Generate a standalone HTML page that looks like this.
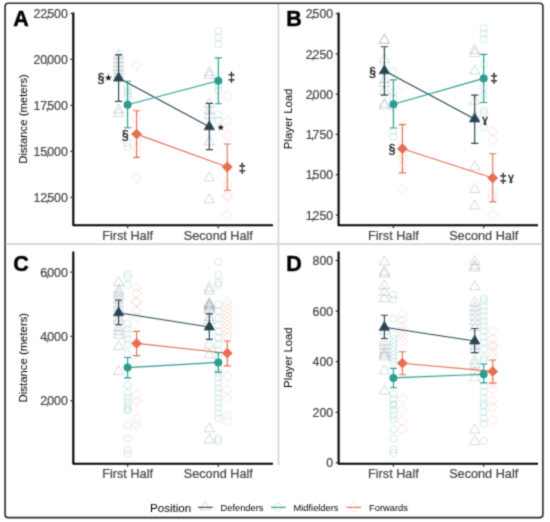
<!DOCTYPE html>
<html><head><meta charset="utf-8"><title>Chart</title>
<style>
html,body{margin:0;padding:0;background:#fff;}
body{width:550px;height:522px;overflow:hidden;}
svg{display:block;font-family:"Liberation Sans", sans-serif;}
#w{will-change:transform;width:550px;height:522px;}
</style></head>
<body>
<div id="w">
<svg width="550" height="522" viewBox="0 0 550 522">
<defs><filter id="bl" color-interpolation-filters="sRGB" x="0" y="0" width="550" height="522" filterUnits="userSpaceOnUse"><feConvolveMatrix order="3" kernelMatrix="0.04 0.1 0.04 0.1 0.44 0.1 0.04 0.1 0.04" divisor="1" edgeMode="duplicate" preserveAlpha="true"/></filter></defs>
<rect width="550" height="522" fill="#fff"/>
<g filter="url(#bl)">
<rect width="550" height="522" fill="#fff"/>
<rect x="5.1" y="3.3" width="537.8" height="514.3" rx="3.2" ry="3.2" fill="none" stroke="#2a2a2a" stroke-width="1.6"/>
<line x1="278.4" y1="4" x2="278.4" y2="465" stroke="#d6d6d6" stroke-width="1.8"/>
<line x1="5.8" y1="244.2" x2="542.2" y2="244.2" stroke="#d6d6d6" stroke-width="1.8"/>
<polygon points="118.60,49.40 123.80,58.40 113.40,58.40" fill="none" stroke="#264653" stroke-width="0.75" stroke-opacity="0.26" />
<polygon points="118.60,53.50 123.80,62.50 113.40,62.50" fill="none" stroke="#264653" stroke-width="0.75" stroke-opacity="0.26" />
<polygon points="118.60,57.50 123.80,66.50 113.40,66.50" fill="none" stroke="#264653" stroke-width="0.75" stroke-opacity="0.26" />
<polygon points="118.60,61.50 123.80,70.50 113.40,70.50" fill="none" stroke="#264653" stroke-width="0.75" stroke-opacity="0.26" />
<polygon points="118.60,65.00 123.80,74.00 113.40,74.00" fill="none" stroke="#264653" stroke-width="0.75" stroke-opacity="0.26" />
<polygon points="118.60,68.50 123.80,77.50 113.40,77.50" fill="none" stroke="#264653" stroke-width="0.75" stroke-opacity="0.26" />
<polygon points="118.60,104.00 123.80,113.00 113.40,113.00" fill="none" stroke="#264653" stroke-width="0.75" stroke-opacity="0.26" />
<polygon points="118.60,107.50 123.80,116.50 113.40,116.50" fill="none" stroke="#264653" stroke-width="0.75" stroke-opacity="0.26" />
<circle cx="127.60" cy="87.00" r="3.6" fill="none" stroke="#2a9d8f" stroke-width="0.75" stroke-opacity="0.26" />
<circle cx="127.60" cy="90.50" r="3.6" fill="none" stroke="#2a9d8f" stroke-width="0.75" stroke-opacity="0.26" />
<circle cx="127.60" cy="94.00" r="3.6" fill="none" stroke="#2a9d8f" stroke-width="0.75" stroke-opacity="0.26" />
<circle cx="127.60" cy="97.00" r="3.6" fill="none" stroke="#2a9d8f" stroke-width="0.75" stroke-opacity="0.26" />
<circle cx="127.60" cy="143.00" r="3.6" fill="none" stroke="#2a9d8f" stroke-width="0.75" stroke-opacity="0.26" />
<circle cx="127.60" cy="147.00" r="3.6" fill="none" stroke="#2a9d8f" stroke-width="0.75" stroke-opacity="0.26" />
<polygon points="136.60,60.30 141.60,65.30 136.60,70.30 131.60,65.30" fill="none" stroke="#e76f51" stroke-width="0.75" stroke-opacity="0.26" />
<polygon points="136.60,113.60 141.60,118.60 136.60,123.60 131.60,118.60" fill="none" stroke="#e76f51" stroke-width="0.75" stroke-opacity="0.26" />
<polygon points="136.60,135.00 141.60,140.00 136.60,145.00 131.60,140.00" fill="none" stroke="#e76f51" stroke-width="0.75" stroke-opacity="0.26" />
<polygon points="136.60,143.00 141.60,148.00 136.60,153.00 131.60,148.00" fill="none" stroke="#e76f51" stroke-width="0.75" stroke-opacity="0.26" />
<polygon points="136.60,172.90 141.60,177.90 136.60,182.90 131.60,177.90" fill="none" stroke="#e76f51" stroke-width="0.75" stroke-opacity="0.26" />
<polygon points="209.30,66.60 214.50,75.60 204.10,75.60" fill="none" stroke="#264653" stroke-width="0.75" stroke-opacity="0.26" />
<polygon points="209.30,69.50 214.50,78.50 204.10,78.50" fill="none" stroke="#264653" stroke-width="0.75" stroke-opacity="0.26" />
<polygon points="209.30,98.00 214.50,107.00 204.10,107.00" fill="none" stroke="#264653" stroke-width="0.75" stroke-opacity="0.26" />
<polygon points="209.30,104.50 214.50,113.50 204.10,113.50" fill="none" stroke="#264653" stroke-width="0.75" stroke-opacity="0.26" />
<polygon points="209.30,109.50 214.50,118.50 204.10,118.50" fill="none" stroke="#264653" stroke-width="0.75" stroke-opacity="0.26" />
<polygon points="209.30,136.00 214.50,145.00 204.10,145.00" fill="none" stroke="#264653" stroke-width="0.75" stroke-opacity="0.26" />
<polygon points="209.30,171.90 214.50,180.90 204.10,180.90" fill="none" stroke="#264653" stroke-width="0.75" stroke-opacity="0.26" />
<polygon points="209.30,193.80 214.50,202.80 204.10,202.80" fill="none" stroke="#264653" stroke-width="0.75" stroke-opacity="0.26" />
<circle cx="218.30" cy="31.00" r="3.6" fill="none" stroke="#2a9d8f" stroke-width="0.75" stroke-opacity="0.26" />
<circle cx="218.30" cy="37.80" r="3.6" fill="none" stroke="#2a9d8f" stroke-width="0.75" stroke-opacity="0.26" />
<circle cx="218.30" cy="44.00" r="3.6" fill="none" stroke="#2a9d8f" stroke-width="0.75" stroke-opacity="0.26" />
<circle cx="218.30" cy="86.40" r="3.6" fill="none" stroke="#2a9d8f" stroke-width="0.75" stroke-opacity="0.26" />
<circle cx="218.30" cy="90.50" r="3.6" fill="none" stroke="#2a9d8f" stroke-width="0.75" stroke-opacity="0.26" />
<circle cx="218.30" cy="114.80" r="3.6" fill="none" stroke="#2a9d8f" stroke-width="0.75" stroke-opacity="0.26" />
<circle cx="218.30" cy="120.50" r="3.6" fill="none" stroke="#2a9d8f" stroke-width="0.75" stroke-opacity="0.26" />
<polygon points="227.30,91.20 232.30,96.20 227.30,101.20 222.30,96.20" fill="none" stroke="#e76f51" stroke-width="0.75" stroke-opacity="0.26" />
<polygon points="227.30,115.50 232.30,120.50 227.30,125.50 222.30,120.50" fill="none" stroke="#e76f51" stroke-width="0.75" stroke-opacity="0.26" />
<polygon points="227.30,130.50 232.30,135.50 227.30,140.50 222.30,135.50" fill="none" stroke="#e76f51" stroke-width="0.75" stroke-opacity="0.26" />
<polygon points="227.30,179.20 232.30,184.20 227.30,189.20 222.30,184.20" fill="none" stroke="#e76f51" stroke-width="0.75" stroke-opacity="0.26" />
<polygon points="227.30,190.10 232.30,195.10 227.30,200.10 222.30,195.10" fill="none" stroke="#e76f51" stroke-width="0.75" stroke-opacity="0.26" />
<polygon points="227.30,192.40 232.30,197.40 227.30,202.40 222.30,197.40" fill="none" stroke="#e76f51" stroke-width="0.75" stroke-opacity="0.26" />
<polygon points="227.30,210.00 232.30,215.00 227.30,220.00 222.30,215.00" fill="none" stroke="#e76f51" stroke-width="0.75" stroke-opacity="0.26" />
<line x1="118.60" y1="78.1" x2="209.30" y2="126.8" stroke="#264653" stroke-width="1.15"/>
<line x1="127.60" y1="104.7" x2="218.30" y2="80.7" stroke="#2a9d8f" stroke-width="1.15"/>
<line x1="136.60" y1="134.1" x2="227.30" y2="167.0" stroke="#e76f51" stroke-width="1.15"/>
<path d="M115.00,54.8 H122.20 M118.60,54.8 V101.4 M115.00,101.4 H122.20" stroke="#264653" stroke-width="1.15" fill="none"/>
<path d="M205.70,103.4 H212.90 M209.30,103.4 V149.6 M205.70,149.6 H212.90" stroke="#264653" stroke-width="1.15" fill="none"/>
<path d="M124.00,81.2 H131.20 M127.60,81.2 V127.7 M124.00,127.7 H131.20" stroke="#2a9d8f" stroke-width="1.15" fill="none"/>
<path d="M214.70,57.8 H221.90 M218.30,57.8 V103.7 M214.70,103.7 H221.90" stroke="#2a9d8f" stroke-width="1.15" fill="none"/>
<path d="M133.00,110.7 H140.20 M136.60,110.7 V157.3 M133.00,157.3 H140.20" stroke="#e76f51" stroke-width="1.15" fill="none"/>
<path d="M223.70,144.0 H230.90 M227.30,144.0 V190.2 M223.70,190.2 H230.90" stroke="#e76f51" stroke-width="1.15" fill="none"/>
<polygon points="118.60,72.10 123.80,81.10 113.40,81.10" fill="#264653" stroke="#264653" stroke-width="0.7" stroke-linejoin="miter" />
<polygon points="209.30,120.80 214.50,129.80 204.10,129.80" fill="#264653" stroke="#264653" stroke-width="0.7" stroke-linejoin="miter" />
<circle cx="127.60" cy="104.70" r="4.0" fill="#2a9d8f" />
<circle cx="218.30" cy="80.70" r="4.0" fill="#2a9d8f" />
<polygon points="136.60,128.70 142.00,134.10 136.60,139.50 131.20,134.10" fill="#e76f51" />
<polygon points="227.30,161.60 232.70,167.00 227.30,172.40 221.90,167.00" fill="#e76f51" />
<path d="M73.3,12.5 V225.3 H273" stroke="#000" stroke-width="2.1" stroke-linejoin="round" fill="none"/>
<line x1="70.39999999999999" y1="13.4" x2="73.3" y2="13.4" stroke="#333" stroke-width="1.3"/>
<text x="67.8" y="18.0" font-size="12.3" fill="#444444" text-anchor="end" font-weight="normal" stroke="#444" stroke-width="0.2">22<tspan dx="-1.6">,</tspan><tspan dx="-1.75">500</tspan></text>
<line x1="70.39999999999999" y1="59.4" x2="73.3" y2="59.4" stroke="#333" stroke-width="1.3"/>
<text x="67.8" y="64.0" font-size="12.3" fill="#444444" text-anchor="end" font-weight="normal" stroke="#444" stroke-width="0.2">20<tspan dx="-1.6">,</tspan><tspan dx="-1.75">000</tspan></text>
<line x1="70.39999999999999" y1="105.4" x2="73.3" y2="105.4" stroke="#333" stroke-width="1.3"/>
<text x="67.8" y="110.0" font-size="12.3" fill="#444444" text-anchor="end" font-weight="normal" stroke="#444" stroke-width="0.2">17<tspan dx="-1.6">,</tspan><tspan dx="-1.75">500</tspan></text>
<line x1="70.39999999999999" y1="151.4" x2="73.3" y2="151.4" stroke="#333" stroke-width="1.3"/>
<text x="67.8" y="156.0" font-size="12.3" fill="#444444" text-anchor="end" font-weight="normal" stroke="#444" stroke-width="0.2">15<tspan dx="-1.6">,</tspan><tspan dx="-1.75">000</tspan></text>
<line x1="70.39999999999999" y1="197.4" x2="73.3" y2="197.4" stroke="#333" stroke-width="1.3"/>
<text x="67.8" y="202.0" font-size="12.3" fill="#444444" text-anchor="end" font-weight="normal" stroke="#444" stroke-width="0.2">12<tspan dx="-1.6">,</tspan><tspan dx="-1.75">500</tspan></text>
<line x1="127.6" y1="225.3" x2="127.6" y2="228.20000000000002" stroke="#333" stroke-width="1.3"/>
<text x="127.6" y="239.5" font-size="12.7" fill="#444444" text-anchor="middle" font-weight="normal" stroke="#444" stroke-width="0.2">First Half</text>
<line x1="218.3" y1="225.3" x2="218.3" y2="228.20000000000002" stroke="#333" stroke-width="1.3"/>
<text x="218.3" y="239.5" font-size="12.7" fill="#444444" text-anchor="middle" font-weight="normal" stroke="#444" stroke-width="0.2">Second Half</text>
<text x="26.9" y="118.9" font-size="11.35" fill="#000" text-anchor="middle" transform="rotate(-90 26.9 118.9)">Distance (meters)</text>
<text x="13.2" y="25.8" font-size="21.5" fill="#000" text-anchor="start" font-weight="bold" stroke="#000" stroke-width="0.45">A</text>
<polygon points="384.40,34.30 389.60,43.30 379.20,43.30" fill="none" stroke="#264653" stroke-width="0.75" stroke-opacity="0.26" />
<polygon points="384.40,34.30 389.60,43.30 379.20,43.30" fill="none" stroke="#264653" stroke-width="0.75" stroke-opacity="0.26" />
<polygon points="384.40,53.70 389.60,62.70 379.20,62.70" fill="none" stroke="#264653" stroke-width="0.75" stroke-opacity="0.26" />
<polygon points="384.40,73.50 389.60,82.50 379.20,82.50" fill="none" stroke="#264653" stroke-width="0.75" stroke-opacity="0.26" />
<polygon points="384.40,77.50 389.60,86.50 379.20,86.50" fill="none" stroke="#264653" stroke-width="0.75" stroke-opacity="0.26" />
<polygon points="384.40,85.50 389.60,94.50 379.20,94.50" fill="none" stroke="#264653" stroke-width="0.75" stroke-opacity="0.26" />
<polygon points="384.40,98.00 389.60,107.00 379.20,107.00" fill="none" stroke="#264653" stroke-width="0.75" stroke-opacity="0.26" />
<polygon points="384.40,100.00 389.60,109.00 379.20,109.00" fill="none" stroke="#264653" stroke-width="0.75" stroke-opacity="0.26" />
<circle cx="393.40" cy="70.80" r="3.6" fill="none" stroke="#2a9d8f" stroke-width="0.75" stroke-opacity="0.26" />
<circle cx="393.40" cy="92.20" r="3.6" fill="none" stroke="#2a9d8f" stroke-width="0.75" stroke-opacity="0.26" />
<circle cx="393.40" cy="98.60" r="3.6" fill="none" stroke="#2a9d8f" stroke-width="0.75" stroke-opacity="0.26" />
<circle cx="393.40" cy="107.20" r="3.6" fill="none" stroke="#2a9d8f" stroke-width="0.75" stroke-opacity="0.26" />
<circle cx="393.40" cy="130.90" r="3.6" fill="none" stroke="#2a9d8f" stroke-width="0.75" stroke-opacity="0.26" />
<circle cx="393.40" cy="136.70" r="3.6" fill="none" stroke="#2a9d8f" stroke-width="0.75" stroke-opacity="0.26" />
<polygon points="402.40,81.40 407.40,86.40 402.40,91.40 397.40,86.40" fill="none" stroke="#e76f51" stroke-width="0.75" stroke-opacity="0.26" />
<polygon points="402.40,121.80 407.40,126.80 402.40,131.80 397.40,126.80" fill="none" stroke="#e76f51" stroke-width="0.75" stroke-opacity="0.26" />
<polygon points="402.40,138.00 407.40,143.00 402.40,148.00 397.40,143.00" fill="none" stroke="#e76f51" stroke-width="0.75" stroke-opacity="0.26" />
<polygon points="402.40,149.50 407.40,154.50 402.40,159.50 397.40,154.50" fill="none" stroke="#e76f51" stroke-width="0.75" stroke-opacity="0.26" />
<polygon points="402.40,153.00 407.40,158.00 402.40,163.00 397.40,158.00" fill="none" stroke="#e76f51" stroke-width="0.75" stroke-opacity="0.26" />
<polygon points="402.40,161.00 407.40,166.00 402.40,171.00 397.40,166.00" fill="none" stroke="#e76f51" stroke-width="0.75" stroke-opacity="0.26" />
<polygon points="402.40,184.30 407.40,189.30 402.40,194.30 397.40,189.30" fill="none" stroke="#e76f51" stroke-width="0.75" stroke-opacity="0.26" />
<polygon points="474.70,44.50 479.90,53.50 469.50,53.50" fill="none" stroke="#264653" stroke-width="0.75" stroke-opacity="0.26" />
<polygon points="474.70,47.50 479.90,56.50 469.50,56.50" fill="none" stroke="#264653" stroke-width="0.75" stroke-opacity="0.26" />
<polygon points="474.70,65.00 479.90,74.00 469.50,74.00" fill="none" stroke="#264653" stroke-width="0.75" stroke-opacity="0.26" />
<polygon points="474.70,95.00 479.90,104.00 469.50,104.00" fill="none" stroke="#264653" stroke-width="0.75" stroke-opacity="0.26" />
<polygon points="474.70,110.50 479.90,119.50 469.50,119.50" fill="none" stroke="#264653" stroke-width="0.75" stroke-opacity="0.26" />
<polygon points="474.70,160.80 479.90,169.80 469.50,169.80" fill="none" stroke="#264653" stroke-width="0.75" stroke-opacity="0.26" />
<polygon points="474.70,183.50 479.90,192.50 469.50,192.50" fill="none" stroke="#264653" stroke-width="0.75" stroke-opacity="0.26" />
<polygon points="474.70,200.00 479.90,209.00 469.50,209.00" fill="none" stroke="#264653" stroke-width="0.75" stroke-opacity="0.26" />
<circle cx="483.70" cy="28.20" r="3.6" fill="none" stroke="#2a9d8f" stroke-width="0.75" stroke-opacity="0.26" />
<circle cx="483.70" cy="33.40" r="3.6" fill="none" stroke="#2a9d8f" stroke-width="0.75" stroke-opacity="0.26" />
<circle cx="483.70" cy="39.10" r="3.6" fill="none" stroke="#2a9d8f" stroke-width="0.75" stroke-opacity="0.26" />
<circle cx="483.70" cy="64.20" r="3.6" fill="none" stroke="#2a9d8f" stroke-width="0.75" stroke-opacity="0.26" />
<circle cx="483.70" cy="87.60" r="3.6" fill="none" stroke="#2a9d8f" stroke-width="0.75" stroke-opacity="0.26" />
<circle cx="483.70" cy="95.10" r="3.6" fill="none" stroke="#2a9d8f" stroke-width="0.75" stroke-opacity="0.26" />
<circle cx="483.70" cy="110.50" r="3.6" fill="none" stroke="#2a9d8f" stroke-width="0.75" stroke-opacity="0.26" />
<circle cx="483.70" cy="113.00" r="3.6" fill="none" stroke="#2a9d8f" stroke-width="0.75" stroke-opacity="0.26" />
<circle cx="483.70" cy="127.00" r="3.6" fill="none" stroke="#2a9d8f" stroke-width="0.75" stroke-opacity="0.26" />
<polygon points="492.70,126.60 497.70,131.60 492.70,136.60 487.70,131.60" fill="none" stroke="#e76f51" stroke-width="0.75" stroke-opacity="0.26" />
<polygon points="492.70,135.20 497.70,140.20 492.70,145.20 487.70,140.20" fill="none" stroke="#e76f51" stroke-width="0.75" stroke-opacity="0.26" />
<polygon points="492.70,188.90 497.70,193.90 492.70,198.90 487.70,193.90" fill="none" stroke="#e76f51" stroke-width="0.75" stroke-opacity="0.26" />
<polygon points="492.70,191.90 497.70,196.90 492.70,201.90 487.70,196.90" fill="none" stroke="#e76f51" stroke-width="0.75" stroke-opacity="0.26" />
<polygon points="492.70,210.10 497.70,215.10 492.70,220.10 487.70,215.10" fill="none" stroke="#e76f51" stroke-width="0.75" stroke-opacity="0.26" />
<line x1="384.40" y1="70.8" x2="474.70" y2="119.0" stroke="#264653" stroke-width="1.15"/>
<line x1="393.40" y1="104.3" x2="483.70" y2="78.4" stroke="#2a9d8f" stroke-width="1.15"/>
<line x1="402.40" y1="148.7" x2="492.70" y2="178.0" stroke="#e76f51" stroke-width="1.15"/>
<path d="M380.80,46.7 H388.00 M384.40,46.7 V95.1 M380.80,95.1 H388.00" stroke="#264653" stroke-width="1.15" fill="none"/>
<path d="M471.10,95.1 H478.30 M474.70,95.1 V143.4 M471.10,143.4 H478.30" stroke="#264653" stroke-width="1.15" fill="none"/>
<path d="M389.80,79.8 H397.00 M393.40,79.8 V128.0 M389.80,128.0 H397.00" stroke="#2a9d8f" stroke-width="1.15" fill="none"/>
<path d="M480.10,54.4 H487.30 M483.70,54.4 V102.5 M480.10,102.5 H487.30" stroke="#2a9d8f" stroke-width="1.15" fill="none"/>
<path d="M398.80,124.6 H406.00 M402.40,124.6 V172.9 M398.80,172.9 H406.00" stroke="#e76f51" stroke-width="1.15" fill="none"/>
<path d="M489.10,153.7 H496.30 M492.70,153.7 V201.9 M489.10,201.9 H496.30" stroke="#e76f51" stroke-width="1.15" fill="none"/>
<polygon points="384.40,64.80 389.60,73.80 379.20,73.80" fill="#264653" stroke="#264653" stroke-width="0.7" stroke-linejoin="miter" />
<polygon points="474.70,113.00 479.90,122.00 469.50,122.00" fill="#264653" stroke="#264653" stroke-width="0.7" stroke-linejoin="miter" />
<circle cx="393.40" cy="104.30" r="4.0" fill="#2a9d8f" />
<circle cx="483.70" cy="78.40" r="4.0" fill="#2a9d8f" />
<polygon points="402.40,143.30 407.80,148.70 402.40,154.10 397.00,148.70" fill="#e76f51" />
<polygon points="492.70,172.60 498.10,178.00 492.70,183.40 487.30,178.00" fill="#e76f51" />
<path d="M338.6,12.5 V225.3 H538" stroke="#000" stroke-width="2.1" stroke-linejoin="round" fill="none"/>
<line x1="335.70000000000005" y1="13.6" x2="338.6" y2="13.6" stroke="#333" stroke-width="1.3"/>
<text x="333.1" y="18.2" font-size="12.3" fill="#444444" text-anchor="end" font-weight="normal" stroke="#444" stroke-width="0.2">2<tspan dx="-1.6">,</tspan><tspan dx="-1.75">500</tspan></text>
<line x1="335.70000000000005" y1="53.9" x2="338.6" y2="53.9" stroke="#333" stroke-width="1.3"/>
<text x="333.1" y="58.5" font-size="12.3" fill="#444444" text-anchor="end" font-weight="normal" stroke="#444" stroke-width="0.2">2<tspan dx="-1.6">,</tspan><tspan dx="-1.75">250</tspan></text>
<line x1="335.70000000000005" y1="94.2" x2="338.6" y2="94.2" stroke="#333" stroke-width="1.3"/>
<text x="333.1" y="98.8" font-size="12.3" fill="#444444" text-anchor="end" font-weight="normal" stroke="#444" stroke-width="0.2">2<tspan dx="-1.6">,</tspan><tspan dx="-1.75">000</tspan></text>
<line x1="335.70000000000005" y1="134.4" x2="338.6" y2="134.4" stroke="#333" stroke-width="1.3"/>
<text x="333.1" y="139.0" font-size="12.3" fill="#444444" text-anchor="end" font-weight="normal" stroke="#444" stroke-width="0.2">1<tspan dx="-1.6">,</tspan><tspan dx="-1.75">750</tspan></text>
<line x1="335.70000000000005" y1="174.7" x2="338.6" y2="174.7" stroke="#333" stroke-width="1.3"/>
<text x="333.1" y="179.29999999999998" font-size="12.3" fill="#444444" text-anchor="end" font-weight="normal" stroke="#444" stroke-width="0.2">1<tspan dx="-1.6">,</tspan><tspan dx="-1.75">500</tspan></text>
<line x1="335.70000000000005" y1="215.0" x2="338.6" y2="215.0" stroke="#333" stroke-width="1.3"/>
<text x="333.1" y="219.6" font-size="12.3" fill="#444444" text-anchor="end" font-weight="normal" stroke="#444" stroke-width="0.2">1<tspan dx="-1.6">,</tspan><tspan dx="-1.75">250</tspan></text>
<line x1="393.4" y1="225.3" x2="393.4" y2="228.20000000000002" stroke="#333" stroke-width="1.3"/>
<text x="393.4" y="239.5" font-size="12.7" fill="#444444" text-anchor="middle" font-weight="normal" stroke="#444" stroke-width="0.2">First Half</text>
<line x1="483.7" y1="225.3" x2="483.7" y2="228.20000000000002" stroke="#333" stroke-width="1.3"/>
<text x="483.7" y="239.5" font-size="12.7" fill="#444444" text-anchor="middle" font-weight="normal" stroke="#444" stroke-width="0.2">Second Half</text>
<text x="292.20000000000005" y="118.9" font-size="11.35" fill="#000" text-anchor="middle" transform="rotate(-90 292.20000000000005 118.9)">Player Load</text>
<text x="286.3" y="25.8" font-size="21.5" fill="#000" text-anchor="start" font-weight="bold" stroke="#000" stroke-width="0.45">B</text>
<polygon points="118.60,276.70 123.80,285.70 113.40,285.70" fill="none" stroke="#264653" stroke-width="0.75" stroke-opacity="0.26" />
<polygon points="118.60,284.00 123.80,293.00 113.40,293.00" fill="none" stroke="#264653" stroke-width="0.75" stroke-opacity="0.26" />
<polygon points="118.60,287.00 123.80,296.00 113.40,296.00" fill="none" stroke="#264653" stroke-width="0.75" stroke-opacity="0.26" />
<polygon points="118.60,290.00 123.80,299.00 113.40,299.00" fill="none" stroke="#264653" stroke-width="0.75" stroke-opacity="0.26" />
<polygon points="118.60,294.00 123.80,303.00 113.40,303.00" fill="none" stroke="#264653" stroke-width="0.75" stroke-opacity="0.26" />
<polygon points="118.60,298.00 123.80,307.00 113.40,307.00" fill="none" stroke="#264653" stroke-width="0.75" stroke-opacity="0.26" />
<polygon points="118.60,302.00 123.80,311.00 113.40,311.00" fill="none" stroke="#264653" stroke-width="0.75" stroke-opacity="0.26" />
<polygon points="118.60,312.00 123.80,321.00 113.40,321.00" fill="none" stroke="#264653" stroke-width="0.75" stroke-opacity="0.26" />
<polygon points="118.60,315.00 123.80,324.00 113.40,324.00" fill="none" stroke="#264653" stroke-width="0.75" stroke-opacity="0.26" />
<polygon points="118.60,322.00 123.80,331.00 113.40,331.00" fill="none" stroke="#264653" stroke-width="0.75" stroke-opacity="0.26" />
<polygon points="118.60,325.50 123.80,334.50 113.40,334.50" fill="none" stroke="#264653" stroke-width="0.75" stroke-opacity="0.26" />
<polygon points="118.60,329.00 123.80,338.00 113.40,338.00" fill="none" stroke="#264653" stroke-width="0.75" stroke-opacity="0.26" />
<polygon points="118.60,340.50 123.80,349.50 113.40,349.50" fill="none" stroke="#264653" stroke-width="0.75" stroke-opacity="0.26" />
<polygon points="118.60,365.60 123.80,374.60 113.40,374.60" fill="none" stroke="#264653" stroke-width="0.75" stroke-opacity="0.26" />
<circle cx="127.60" cy="274.30" r="3.6" fill="none" stroke="#2a9d8f" stroke-width="0.75" stroke-opacity="0.26" />
<circle cx="127.60" cy="277.20" r="3.6" fill="none" stroke="#2a9d8f" stroke-width="0.75" stroke-opacity="0.26" />
<circle cx="127.60" cy="284.70" r="3.6" fill="none" stroke="#2a9d8f" stroke-width="0.75" stroke-opacity="0.26" />
<circle cx="127.60" cy="324.00" r="3.6" fill="none" stroke="#2a9d8f" stroke-width="0.75" stroke-opacity="0.26" />
<circle cx="127.60" cy="329.00" r="3.6" fill="none" stroke="#2a9d8f" stroke-width="0.75" stroke-opacity="0.26" />
<circle cx="127.60" cy="334.00" r="3.6" fill="none" stroke="#2a9d8f" stroke-width="0.75" stroke-opacity="0.26" />
<circle cx="127.60" cy="339.00" r="3.6" fill="none" stroke="#2a9d8f" stroke-width="0.75" stroke-opacity="0.26" />
<circle cx="127.60" cy="344.50" r="3.6" fill="none" stroke="#2a9d8f" stroke-width="0.75" stroke-opacity="0.26" />
<circle cx="127.60" cy="354.40" r="3.6" fill="none" stroke="#2a9d8f" stroke-width="0.75" stroke-opacity="0.26" />
<circle cx="127.60" cy="385.00" r="3.6" fill="none" stroke="#2a9d8f" stroke-width="0.75" stroke-opacity="0.26" />
<circle cx="127.60" cy="393.00" r="3.6" fill="none" stroke="#2a9d8f" stroke-width="0.75" stroke-opacity="0.26" />
<circle cx="127.60" cy="397.50" r="3.6" fill="none" stroke="#2a9d8f" stroke-width="0.75" stroke-opacity="0.26" />
<circle cx="127.60" cy="402.00" r="3.6" fill="none" stroke="#2a9d8f" stroke-width="0.75" stroke-opacity="0.26" />
<circle cx="127.60" cy="406.00" r="3.6" fill="none" stroke="#2a9d8f" stroke-width="0.75" stroke-opacity="0.26" />
<circle cx="127.60" cy="409.00" r="3.6" fill="none" stroke="#2a9d8f" stroke-width="0.75" stroke-opacity="0.26" />
<circle cx="127.60" cy="410.50" r="3.6" fill="none" stroke="#2a9d8f" stroke-width="0.75" stroke-opacity="0.26" />
<circle cx="127.60" cy="425.20" r="3.6" fill="none" stroke="#2a9d8f" stroke-width="0.75" stroke-opacity="0.26" />
<circle cx="127.60" cy="438.40" r="3.6" fill="none" stroke="#2a9d8f" stroke-width="0.75" stroke-opacity="0.26" />
<circle cx="127.60" cy="449.90" r="3.6" fill="none" stroke="#2a9d8f" stroke-width="0.75" stroke-opacity="0.26" />
<circle cx="127.60" cy="453.30" r="3.6" fill="none" stroke="#2a9d8f" stroke-width="0.75" stroke-opacity="0.26" />
<polygon points="136.60,282.50 141.60,287.50 136.60,292.50 131.60,287.50" fill="none" stroke="#e76f51" stroke-width="0.75" stroke-opacity="0.26" />
<polygon points="136.60,288.50 141.60,293.50 136.60,298.50 131.60,293.50" fill="none" stroke="#e76f51" stroke-width="0.75" stroke-opacity="0.26" />
<polygon points="136.60,296.30 141.60,301.30 136.60,306.30 131.60,301.30" fill="none" stroke="#e76f51" stroke-width="0.75" stroke-opacity="0.26" />
<polygon points="136.60,297.50 141.60,302.50 136.60,307.50 131.60,302.50" fill="none" stroke="#e76f51" stroke-width="0.75" stroke-opacity="0.26" />
<polygon points="136.60,305.90 141.60,310.90 136.60,315.90 131.60,310.90" fill="none" stroke="#e76f51" stroke-width="0.75" stroke-opacity="0.26" />
<polygon points="136.60,312.20 141.60,317.20 136.60,322.20 131.60,317.20" fill="none" stroke="#e76f51" stroke-width="0.75" stroke-opacity="0.26" />
<polygon points="136.60,356.30 141.60,361.30 136.60,366.30 131.60,361.30" fill="none" stroke="#e76f51" stroke-width="0.75" stroke-opacity="0.26" />
<polygon points="136.60,390.00 141.60,395.00 136.60,400.00 131.60,395.00" fill="none" stroke="#e76f51" stroke-width="0.75" stroke-opacity="0.26" />
<polygon points="136.60,396.00 141.60,401.00 136.60,406.00 131.60,401.00" fill="none" stroke="#e76f51" stroke-width="0.75" stroke-opacity="0.26" />
<polygon points="136.60,414.50 141.60,419.50 136.60,424.50 131.60,419.50" fill="none" stroke="#e76f51" stroke-width="0.75" stroke-opacity="0.26" />
<polygon points="136.60,420.00 141.60,425.00 136.60,430.00 131.60,425.00" fill="none" stroke="#e76f51" stroke-width="0.75" stroke-opacity="0.26" />
<polygon points="209.30,282.00 214.50,291.00 204.10,291.00" fill="none" stroke="#264653" stroke-width="0.75" stroke-opacity="0.26" />
<polygon points="209.30,285.00 214.50,294.00 204.10,294.00" fill="none" stroke="#264653" stroke-width="0.75" stroke-opacity="0.26" />
<polygon points="209.30,297.50 214.50,306.50 204.10,306.50" fill="none" stroke="#264653" stroke-width="0.75" stroke-opacity="0.26" />
<polygon points="209.30,298.50 214.50,307.50 204.10,307.50" fill="none" stroke="#264653" stroke-width="0.75" stroke-opacity="0.26" />
<polygon points="209.30,299.50 214.50,308.50 204.10,308.50" fill="none" stroke="#264653" stroke-width="0.75" stroke-opacity="0.26" />
<polygon points="209.30,300.50 214.50,309.50 204.10,309.50" fill="none" stroke="#264653" stroke-width="0.75" stroke-opacity="0.26" />
<polygon points="209.30,302.00 214.50,311.00 204.10,311.00" fill="none" stroke="#264653" stroke-width="0.75" stroke-opacity="0.26" />
<polygon points="209.30,304.00 214.50,313.00 204.10,313.00" fill="none" stroke="#264653" stroke-width="0.75" stroke-opacity="0.26" />
<polygon points="209.30,311.50 214.50,320.50 204.10,320.50" fill="none" stroke="#264653" stroke-width="0.75" stroke-opacity="0.26" />
<polygon points="209.30,314.50 214.50,323.50 204.10,323.50" fill="none" stroke="#264653" stroke-width="0.75" stroke-opacity="0.26" />
<polygon points="209.30,339.00 214.50,348.00 204.10,348.00" fill="none" stroke="#264653" stroke-width="0.75" stroke-opacity="0.26" />
<polygon points="209.30,349.00 214.50,358.00 204.10,358.00" fill="none" stroke="#264653" stroke-width="0.75" stroke-opacity="0.26" />
<polygon points="209.30,422.80 214.50,431.80 204.10,431.80" fill="none" stroke="#264653" stroke-width="0.75" stroke-opacity="0.26" />
<polygon points="209.30,433.90 214.50,442.90 204.10,442.90" fill="none" stroke="#264653" stroke-width="0.75" stroke-opacity="0.26" />
<circle cx="218.30" cy="262.00" r="3.6" fill="none" stroke="#2a9d8f" stroke-width="0.75" stroke-opacity="0.26" />
<circle cx="218.30" cy="274.90" r="3.6" fill="none" stroke="#2a9d8f" stroke-width="0.75" stroke-opacity="0.26" />
<circle cx="218.30" cy="282.40" r="3.6" fill="none" stroke="#2a9d8f" stroke-width="0.75" stroke-opacity="0.26" />
<circle cx="218.30" cy="284.70" r="3.6" fill="none" stroke="#2a9d8f" stroke-width="0.75" stroke-opacity="0.26" />
<circle cx="218.30" cy="304.70" r="3.6" fill="none" stroke="#2a9d8f" stroke-width="0.75" stroke-opacity="0.26" />
<circle cx="218.30" cy="311.00" r="3.6" fill="none" stroke="#2a9d8f" stroke-width="0.75" stroke-opacity="0.26" />
<circle cx="218.30" cy="318.00" r="3.6" fill="none" stroke="#2a9d8f" stroke-width="0.75" stroke-opacity="0.26" />
<circle cx="218.30" cy="325.00" r="3.6" fill="none" stroke="#2a9d8f" stroke-width="0.75" stroke-opacity="0.26" />
<circle cx="218.30" cy="331.70" r="3.6" fill="none" stroke="#2a9d8f" stroke-width="0.75" stroke-opacity="0.26" />
<circle cx="218.30" cy="338.00" r="3.6" fill="none" stroke="#2a9d8f" stroke-width="0.75" stroke-opacity="0.26" />
<circle cx="218.30" cy="344.00" r="3.6" fill="none" stroke="#2a9d8f" stroke-width="0.75" stroke-opacity="0.26" />
<circle cx="218.30" cy="351.00" r="3.6" fill="none" stroke="#2a9d8f" stroke-width="0.75" stroke-opacity="0.26" />
<circle cx="218.30" cy="358.00" r="3.6" fill="none" stroke="#2a9d8f" stroke-width="0.75" stroke-opacity="0.26" />
<circle cx="218.30" cy="368.00" r="3.6" fill="none" stroke="#2a9d8f" stroke-width="0.75" stroke-opacity="0.26" />
<circle cx="218.30" cy="373.00" r="3.6" fill="none" stroke="#2a9d8f" stroke-width="0.75" stroke-opacity="0.26" />
<circle cx="218.30" cy="378.00" r="3.6" fill="none" stroke="#2a9d8f" stroke-width="0.75" stroke-opacity="0.26" />
<circle cx="218.30" cy="383.00" r="3.6" fill="none" stroke="#2a9d8f" stroke-width="0.75" stroke-opacity="0.26" />
<circle cx="218.30" cy="388.00" r="3.6" fill="none" stroke="#2a9d8f" stroke-width="0.75" stroke-opacity="0.26" />
<circle cx="218.30" cy="393.00" r="3.6" fill="none" stroke="#2a9d8f" stroke-width="0.75" stroke-opacity="0.26" />
<circle cx="218.30" cy="398.00" r="3.6" fill="none" stroke="#2a9d8f" stroke-width="0.75" stroke-opacity="0.26" />
<circle cx="218.30" cy="403.00" r="3.6" fill="none" stroke="#2a9d8f" stroke-width="0.75" stroke-opacity="0.26" />
<circle cx="218.30" cy="408.00" r="3.6" fill="none" stroke="#2a9d8f" stroke-width="0.75" stroke-opacity="0.26" />
<circle cx="218.30" cy="413.00" r="3.6" fill="none" stroke="#2a9d8f" stroke-width="0.75" stroke-opacity="0.26" />
<circle cx="218.30" cy="418.00" r="3.6" fill="none" stroke="#2a9d8f" stroke-width="0.75" stroke-opacity="0.26" />
<circle cx="218.30" cy="438.60" r="3.6" fill="none" stroke="#2a9d8f" stroke-width="0.75" stroke-opacity="0.26" />
<circle cx="218.30" cy="440.90" r="3.6" fill="none" stroke="#2a9d8f" stroke-width="0.75" stroke-opacity="0.26" />
<polygon points="227.30,296.30 232.30,301.30 227.30,306.30 222.30,301.30" fill="none" stroke="#e76f51" stroke-width="0.75" stroke-opacity="0.26" />
<polygon points="227.30,300.00 232.30,305.00 227.30,310.00 222.30,305.00" fill="none" stroke="#e76f51" stroke-width="0.75" stroke-opacity="0.26" />
<polygon points="227.30,304.00 232.30,309.00 227.30,314.00 222.30,309.00" fill="none" stroke="#e76f51" stroke-width="0.75" stroke-opacity="0.26" />
<polygon points="227.30,308.00 232.30,313.00 227.30,318.00 222.30,313.00" fill="none" stroke="#e76f51" stroke-width="0.75" stroke-opacity="0.26" />
<polygon points="227.30,312.00 232.30,317.00 227.30,322.00 222.30,317.00" fill="none" stroke="#e76f51" stroke-width="0.75" stroke-opacity="0.26" />
<polygon points="227.30,316.00 232.30,321.00 227.30,326.00 222.30,321.00" fill="none" stroke="#e76f51" stroke-width="0.75" stroke-opacity="0.26" />
<polygon points="227.30,320.00 232.30,325.00 227.30,330.00 222.30,325.00" fill="none" stroke="#e76f51" stroke-width="0.75" stroke-opacity="0.26" />
<polygon points="227.30,324.00 232.30,329.00 227.30,334.00 222.30,329.00" fill="none" stroke="#e76f51" stroke-width="0.75" stroke-opacity="0.26" />
<polygon points="227.30,328.00 232.30,333.00 227.30,338.00 222.30,333.00" fill="none" stroke="#e76f51" stroke-width="0.75" stroke-opacity="0.26" />
<polygon points="227.30,332.00 232.30,337.00 227.30,342.00 222.30,337.00" fill="none" stroke="#e76f51" stroke-width="0.75" stroke-opacity="0.26" />
<polygon points="227.30,371.00 232.30,376.00 227.30,381.00 222.30,376.00" fill="none" stroke="#e76f51" stroke-width="0.75" stroke-opacity="0.26" />
<polygon points="227.30,384.70 232.30,389.70 227.30,394.70 222.30,389.70" fill="none" stroke="#e76f51" stroke-width="0.75" stroke-opacity="0.26" />
<polygon points="227.30,393.30 232.30,398.30 227.30,403.30 222.30,398.30" fill="none" stroke="#e76f51" stroke-width="0.75" stroke-opacity="0.26" />
<polygon points="227.30,410.60 232.30,415.60 227.30,420.60 222.30,415.60" fill="none" stroke="#e76f51" stroke-width="0.75" stroke-opacity="0.26" />
<polygon points="227.30,415.30 232.30,420.30 227.30,425.30 222.30,420.30" fill="none" stroke="#e76f51" stroke-width="0.75" stroke-opacity="0.26" />
<line x1="118.60" y1="312.8" x2="209.30" y2="327.0" stroke="#264653" stroke-width="1.15"/>
<line x1="127.60" y1="367.6" x2="218.30" y2="362.4" stroke="#2a9d8f" stroke-width="1.15"/>
<line x1="136.60" y1="343.4" x2="227.30" y2="353.2" stroke="#e76f51" stroke-width="1.15"/>
<path d="M115.00,300.2 H122.20 M118.60,300.2 V324.7 M115.00,324.7 H122.20" stroke="#264653" stroke-width="1.15" fill="none"/>
<path d="M205.70,313.9 H212.90 M209.30,313.9 V339.4 M205.70,339.4 H212.90" stroke="#264653" stroke-width="1.15" fill="none"/>
<path d="M124.00,357.5 H131.20 M127.60,357.5 V377.9 M124.00,377.9 H131.20" stroke="#2a9d8f" stroke-width="1.15" fill="none"/>
<path d="M214.70,352.5 H221.90 M218.30,352.5 V372.4 M214.70,372.4 H221.90" stroke="#2a9d8f" stroke-width="1.15" fill="none"/>
<path d="M133.00,331.3 H140.20 M136.60,331.3 V355.6 M133.00,355.6 H140.20" stroke="#e76f51" stroke-width="1.15" fill="none"/>
<path d="M223.70,341.0 H230.90 M227.30,341.0 V365.8 M223.70,365.8 H230.90" stroke="#e76f51" stroke-width="1.15" fill="none"/>
<polygon points="118.60,306.80 123.80,315.80 113.40,315.80" fill="#264653" stroke="#264653" stroke-width="0.7" stroke-linejoin="miter" />
<polygon points="209.30,321.00 214.50,330.00 204.10,330.00" fill="#264653" stroke="#264653" stroke-width="0.7" stroke-linejoin="miter" />
<circle cx="127.60" cy="367.60" r="4.0" fill="#2a9d8f" />
<circle cx="218.30" cy="362.40" r="4.0" fill="#2a9d8f" />
<polygon points="136.60,338.00 142.00,343.40 136.60,348.80 131.20,343.40" fill="#e76f51" />
<polygon points="227.30,347.80 232.70,353.20 227.30,358.60 221.90,353.20" fill="#e76f51" />
<path d="M73.3,251.5 V463.8 H272.9" stroke="#000" stroke-width="2.1" stroke-linejoin="round" fill="none"/>
<line x1="70.39999999999999" y1="272.1" x2="73.3" y2="272.1" stroke="#333" stroke-width="1.3"/>
<text x="67.8" y="276.70000000000005" font-size="12.3" fill="#444444" text-anchor="end" font-weight="normal" stroke="#444" stroke-width="0.2">6<tspan dx="-1.6">,</tspan><tspan dx="-1.75">000</tspan></text>
<line x1="70.39999999999999" y1="336.4" x2="73.3" y2="336.4" stroke="#333" stroke-width="1.3"/>
<text x="67.8" y="341.0" font-size="12.3" fill="#444444" text-anchor="end" font-weight="normal" stroke="#444" stroke-width="0.2">4<tspan dx="-1.6">,</tspan><tspan dx="-1.75">000</tspan></text>
<line x1="70.39999999999999" y1="400.7" x2="73.3" y2="400.7" stroke="#333" stroke-width="1.3"/>
<text x="67.8" y="405.3" font-size="12.3" fill="#444444" text-anchor="end" font-weight="normal" stroke="#444" stroke-width="0.2">2<tspan dx="-1.6">,</tspan><tspan dx="-1.75">000</tspan></text>
<line x1="127.6" y1="463.8" x2="127.6" y2="466.7" stroke="#333" stroke-width="1.3"/>
<text x="127.6" y="478.0" font-size="12.7" fill="#444444" text-anchor="middle" font-weight="normal" stroke="#444" stroke-width="0.2">First Half</text>
<line x1="218.3" y1="463.8" x2="218.3" y2="466.7" stroke="#333" stroke-width="1.3"/>
<text x="218.3" y="478.0" font-size="12.7" fill="#444444" text-anchor="middle" font-weight="normal" stroke="#444" stroke-width="0.2">Second Half</text>
<text x="26.9" y="357.65" font-size="11.35" fill="#000" text-anchor="middle" transform="rotate(-90 26.9 357.65)">Distance (meters)</text>
<text x="13.2" y="271.1" font-size="21.5" fill="#000" text-anchor="start" font-weight="bold" stroke="#000" stroke-width="0.45">C</text>
<polygon points="384.40,256.00 389.60,265.00 379.20,265.00" fill="none" stroke="#264653" stroke-width="0.75" stroke-opacity="0.26" />
<polygon points="384.40,266.00 389.60,275.00 379.20,275.00" fill="none" stroke="#264653" stroke-width="0.75" stroke-opacity="0.26" />
<polygon points="384.40,268.00 389.60,277.00 379.20,277.00" fill="none" stroke="#264653" stroke-width="0.75" stroke-opacity="0.26" />
<polygon points="384.40,280.00 389.60,289.00 379.20,289.00" fill="none" stroke="#264653" stroke-width="0.75" stroke-opacity="0.26" />
<polygon points="384.40,286.50 389.60,295.50 379.20,295.50" fill="none" stroke="#264653" stroke-width="0.75" stroke-opacity="0.26" />
<polygon points="384.40,292.70 389.60,301.70 379.20,301.70" fill="none" stroke="#264653" stroke-width="0.75" stroke-opacity="0.26" />
<polygon points="384.40,325.00 389.60,334.00 379.20,334.00" fill="none" stroke="#264653" stroke-width="0.75" stroke-opacity="0.26" />
<polygon points="384.40,336.00 389.60,345.00 379.20,345.00" fill="none" stroke="#264653" stroke-width="0.75" stroke-opacity="0.26" />
<polygon points="384.40,340.00 389.60,349.00 379.20,349.00" fill="none" stroke="#264653" stroke-width="0.75" stroke-opacity="0.26" />
<polygon points="384.40,344.00 389.60,353.00 379.20,353.00" fill="none" stroke="#264653" stroke-width="0.75" stroke-opacity="0.26" />
<polygon points="384.40,347.00 389.60,356.00 379.20,356.00" fill="none" stroke="#264653" stroke-width="0.75" stroke-opacity="0.26" />
<polygon points="384.40,349.00 389.60,358.00 379.20,358.00" fill="none" stroke="#264653" stroke-width="0.75" stroke-opacity="0.26" />
<polygon points="384.40,351.00 389.60,360.00 379.20,360.00" fill="none" stroke="#264653" stroke-width="0.75" stroke-opacity="0.26" />
<polygon points="384.40,365.00 389.60,374.00 379.20,374.00" fill="none" stroke="#264653" stroke-width="0.75" stroke-opacity="0.26" />
<polygon points="384.40,385.00 389.60,394.00 379.20,394.00" fill="none" stroke="#264653" stroke-width="0.75" stroke-opacity="0.26" />
<circle cx="393.40" cy="295.00" r="3.6" fill="none" stroke="#2a9d8f" stroke-width="0.75" stroke-opacity="0.26" />
<circle cx="393.40" cy="299.50" r="3.6" fill="none" stroke="#2a9d8f" stroke-width="0.75" stroke-opacity="0.26" />
<circle cx="393.40" cy="319.00" r="3.6" fill="none" stroke="#2a9d8f" stroke-width="0.75" stroke-opacity="0.26" />
<circle cx="393.40" cy="335.00" r="3.6" fill="none" stroke="#2a9d8f" stroke-width="0.75" stroke-opacity="0.26" />
<circle cx="393.40" cy="339.00" r="3.6" fill="none" stroke="#2a9d8f" stroke-width="0.75" stroke-opacity="0.26" />
<circle cx="393.40" cy="343.00" r="3.6" fill="none" stroke="#2a9d8f" stroke-width="0.75" stroke-opacity="0.26" />
<circle cx="393.40" cy="347.00" r="3.6" fill="none" stroke="#2a9d8f" stroke-width="0.75" stroke-opacity="0.26" />
<circle cx="393.40" cy="351.00" r="3.6" fill="none" stroke="#2a9d8f" stroke-width="0.75" stroke-opacity="0.26" />
<circle cx="393.40" cy="355.00" r="3.6" fill="none" stroke="#2a9d8f" stroke-width="0.75" stroke-opacity="0.26" />
<circle cx="393.40" cy="358.50" r="3.6" fill="none" stroke="#2a9d8f" stroke-width="0.75" stroke-opacity="0.26" />
<circle cx="393.40" cy="362.00" r="3.6" fill="none" stroke="#2a9d8f" stroke-width="0.75" stroke-opacity="0.26" />
<circle cx="393.40" cy="394.00" r="3.6" fill="none" stroke="#2a9d8f" stroke-width="0.75" stroke-opacity="0.26" />
<circle cx="393.40" cy="399.00" r="3.6" fill="none" stroke="#2a9d8f" stroke-width="0.75" stroke-opacity="0.26" />
<circle cx="393.40" cy="404.00" r="3.6" fill="none" stroke="#2a9d8f" stroke-width="0.75" stroke-opacity="0.26" />
<circle cx="393.40" cy="405.50" r="3.6" fill="none" stroke="#2a9d8f" stroke-width="0.75" stroke-opacity="0.26" />
<circle cx="393.40" cy="410.00" r="3.6" fill="none" stroke="#2a9d8f" stroke-width="0.75" stroke-opacity="0.26" />
<circle cx="393.40" cy="415.00" r="3.6" fill="none" stroke="#2a9d8f" stroke-width="0.75" stroke-opacity="0.26" />
<circle cx="393.40" cy="419.50" r="3.6" fill="none" stroke="#2a9d8f" stroke-width="0.75" stroke-opacity="0.26" />
<circle cx="393.40" cy="429.30" r="3.6" fill="none" stroke="#2a9d8f" stroke-width="0.75" stroke-opacity="0.26" />
<circle cx="393.40" cy="438.50" r="3.6" fill="none" stroke="#2a9d8f" stroke-width="0.75" stroke-opacity="0.26" />
<circle cx="393.40" cy="449.40" r="3.6" fill="none" stroke="#2a9d8f" stroke-width="0.75" stroke-opacity="0.26" />
<circle cx="393.40" cy="452.90" r="3.6" fill="none" stroke="#2a9d8f" stroke-width="0.75" stroke-opacity="0.26" />
<polygon points="402.40,308.80 407.40,313.80 402.40,318.80 397.40,313.80" fill="none" stroke="#e76f51" stroke-width="0.75" stroke-opacity="0.26" />
<polygon points="402.40,315.00 407.40,320.00 402.40,325.00 397.40,320.00" fill="none" stroke="#e76f51" stroke-width="0.75" stroke-opacity="0.26" />
<polygon points="402.40,321.00 407.40,326.00 402.40,331.00 397.40,326.00" fill="none" stroke="#e76f51" stroke-width="0.75" stroke-opacity="0.26" />
<polygon points="402.40,326.00 407.40,331.00 402.40,336.00 397.40,331.00" fill="none" stroke="#e76f51" stroke-width="0.75" stroke-opacity="0.26" />
<polygon points="402.40,331.00 407.40,336.00 402.40,341.00 397.40,336.00" fill="none" stroke="#e76f51" stroke-width="0.75" stroke-opacity="0.26" />
<polygon points="402.40,336.40 407.40,341.40 402.40,346.40 397.40,341.40" fill="none" stroke="#e76f51" stroke-width="0.75" stroke-opacity="0.26" />
<polygon points="402.40,393.40 407.40,398.40 402.40,403.40 397.40,398.40" fill="none" stroke="#e76f51" stroke-width="0.75" stroke-opacity="0.26" />
<polygon points="402.40,405.00 407.40,410.00 402.40,415.00 397.40,410.00" fill="none" stroke="#e76f51" stroke-width="0.75" stroke-opacity="0.26" />
<polygon points="402.40,416.40 407.40,421.40 402.40,426.40 397.40,421.40" fill="none" stroke="#e76f51" stroke-width="0.75" stroke-opacity="0.26" />
<polygon points="402.40,424.00 407.40,429.00 402.40,434.00 397.40,429.00" fill="none" stroke="#e76f51" stroke-width="0.75" stroke-opacity="0.26" />
<polygon points="474.70,255.50 479.90,264.50 469.50,264.50" fill="none" stroke="#264653" stroke-width="0.75" stroke-opacity="0.26" />
<polygon points="474.70,260.00 479.90,269.00 469.50,269.00" fill="none" stroke="#264653" stroke-width="0.75" stroke-opacity="0.26" />
<polygon points="474.70,262.00 479.90,271.00 469.50,271.00" fill="none" stroke="#264653" stroke-width="0.75" stroke-opacity="0.26" />
<polygon points="474.70,280.80 479.90,289.80 469.50,289.80" fill="none" stroke="#264653" stroke-width="0.75" stroke-opacity="0.26" />
<polygon points="474.70,296.80 479.90,305.80 469.50,305.80" fill="none" stroke="#264653" stroke-width="0.75" stroke-opacity="0.26" />
<polygon points="474.70,301.50 479.90,310.50 469.50,310.50" fill="none" stroke="#264653" stroke-width="0.75" stroke-opacity="0.26" />
<polygon points="474.70,306.00 479.90,315.00 469.50,315.00" fill="none" stroke="#264653" stroke-width="0.75" stroke-opacity="0.26" />
<polygon points="474.70,311.00 479.90,320.00 469.50,320.00" fill="none" stroke="#264653" stroke-width="0.75" stroke-opacity="0.26" />
<polygon points="474.70,316.00 479.90,325.00 469.50,325.00" fill="none" stroke="#264653" stroke-width="0.75" stroke-opacity="0.26" />
<polygon points="474.70,321.60 479.90,330.60 469.50,330.60" fill="none" stroke="#264653" stroke-width="0.75" stroke-opacity="0.26" />
<polygon points="474.70,340.00 479.90,349.00 469.50,349.00" fill="none" stroke="#264653" stroke-width="0.75" stroke-opacity="0.26" />
<polygon points="474.70,344.00 479.90,353.00 469.50,353.00" fill="none" stroke="#264653" stroke-width="0.75" stroke-opacity="0.26" />
<polygon points="474.70,355.00 479.90,364.00 469.50,364.00" fill="none" stroke="#264653" stroke-width="0.75" stroke-opacity="0.26" />
<polygon points="474.70,359.00 479.90,368.00 469.50,368.00" fill="none" stroke="#264653" stroke-width="0.75" stroke-opacity="0.26" />
<polygon points="474.70,366.00 479.90,375.00 469.50,375.00" fill="none" stroke="#264653" stroke-width="0.75" stroke-opacity="0.26" />
<polygon points="474.70,372.00 479.90,381.00 469.50,381.00" fill="none" stroke="#264653" stroke-width="0.75" stroke-opacity="0.26" />
<polygon points="474.70,424.00 479.90,433.00 469.50,433.00" fill="none" stroke="#264653" stroke-width="0.75" stroke-opacity="0.26" />
<polygon points="474.70,435.60 479.90,444.60 469.50,444.60" fill="none" stroke="#264653" stroke-width="0.75" stroke-opacity="0.26" />
<circle cx="483.70" cy="298.30" r="3.6" fill="none" stroke="#2a9d8f" stroke-width="0.75" stroke-opacity="0.26" />
<circle cx="483.70" cy="301.00" r="3.6" fill="none" stroke="#2a9d8f" stroke-width="0.75" stroke-opacity="0.26" />
<circle cx="483.70" cy="306.30" r="3.6" fill="none" stroke="#2a9d8f" stroke-width="0.75" stroke-opacity="0.26" />
<circle cx="483.70" cy="311.00" r="3.6" fill="none" stroke="#2a9d8f" stroke-width="0.75" stroke-opacity="0.26" />
<circle cx="483.70" cy="316.00" r="3.6" fill="none" stroke="#2a9d8f" stroke-width="0.75" stroke-opacity="0.26" />
<circle cx="483.70" cy="321.00" r="3.6" fill="none" stroke="#2a9d8f" stroke-width="0.75" stroke-opacity="0.26" />
<circle cx="483.70" cy="326.00" r="3.6" fill="none" stroke="#2a9d8f" stroke-width="0.75" stroke-opacity="0.26" />
<circle cx="483.70" cy="331.00" r="3.6" fill="none" stroke="#2a9d8f" stroke-width="0.75" stroke-opacity="0.26" />
<circle cx="483.70" cy="337.00" r="3.6" fill="none" stroke="#2a9d8f" stroke-width="0.75" stroke-opacity="0.26" />
<circle cx="483.70" cy="342.00" r="3.6" fill="none" stroke="#2a9d8f" stroke-width="0.75" stroke-opacity="0.26" />
<circle cx="483.70" cy="349.40" r="3.6" fill="none" stroke="#2a9d8f" stroke-width="0.75" stroke-opacity="0.26" />
<circle cx="483.70" cy="358.00" r="3.6" fill="none" stroke="#2a9d8f" stroke-width="0.75" stroke-opacity="0.26" />
<circle cx="483.70" cy="361.00" r="3.6" fill="none" stroke="#2a9d8f" stroke-width="0.75" stroke-opacity="0.26" />
<circle cx="483.70" cy="386.00" r="3.6" fill="none" stroke="#2a9d8f" stroke-width="0.75" stroke-opacity="0.26" />
<circle cx="483.70" cy="392.00" r="3.6" fill="none" stroke="#2a9d8f" stroke-width="0.75" stroke-opacity="0.26" />
<circle cx="483.70" cy="398.00" r="3.6" fill="none" stroke="#2a9d8f" stroke-width="0.75" stroke-opacity="0.26" />
<circle cx="483.70" cy="403.00" r="3.6" fill="none" stroke="#2a9d8f" stroke-width="0.75" stroke-opacity="0.26" />
<circle cx="483.70" cy="406.00" r="3.6" fill="none" stroke="#2a9d8f" stroke-width="0.75" stroke-opacity="0.26" />
<circle cx="483.70" cy="412.00" r="3.6" fill="none" stroke="#2a9d8f" stroke-width="0.75" stroke-opacity="0.26" />
<circle cx="483.70" cy="418.00" r="3.6" fill="none" stroke="#2a9d8f" stroke-width="0.75" stroke-opacity="0.26" />
<circle cx="483.70" cy="424.00" r="3.6" fill="none" stroke="#2a9d8f" stroke-width="0.75" stroke-opacity="0.26" />
<circle cx="483.70" cy="441.00" r="3.6" fill="none" stroke="#2a9d8f" stroke-width="0.75" stroke-opacity="0.26" />
<polygon points="492.70,325.50 497.70,330.50 492.70,335.50 487.70,330.50" fill="none" stroke="#e76f51" stroke-width="0.75" stroke-opacity="0.26" />
<polygon points="492.70,334.00 497.70,339.00 492.70,344.00 487.70,339.00" fill="none" stroke="#e76f51" stroke-width="0.75" stroke-opacity="0.26" />
<polygon points="492.70,340.00 497.70,345.00 492.70,350.00 487.70,345.00" fill="none" stroke="#e76f51" stroke-width="0.75" stroke-opacity="0.26" />
<polygon points="492.70,342.10 497.70,347.10 492.70,352.10 487.70,347.10" fill="none" stroke="#e76f51" stroke-width="0.75" stroke-opacity="0.26" />
<polygon points="492.70,347.30 497.70,352.30 492.70,357.30 487.70,352.30" fill="none" stroke="#e76f51" stroke-width="0.75" stroke-opacity="0.26" />
<polygon points="492.70,351.50 497.70,356.50 492.70,361.50 487.70,356.50" fill="none" stroke="#e76f51" stroke-width="0.75" stroke-opacity="0.26" />
<polygon points="492.70,378.00 497.70,383.00 492.70,388.00 487.70,383.00" fill="none" stroke="#e76f51" stroke-width="0.75" stroke-opacity="0.26" />
<polygon points="492.70,384.00 497.70,389.00 492.70,394.00 487.70,389.00" fill="none" stroke="#e76f51" stroke-width="0.75" stroke-opacity="0.26" />
<polygon points="492.70,396.00 497.70,401.00 492.70,406.00 487.70,401.00" fill="none" stroke="#e76f51" stroke-width="0.75" stroke-opacity="0.26" />
<polygon points="492.70,402.50 497.70,407.50 492.70,412.50 487.70,407.50" fill="none" stroke="#e76f51" stroke-width="0.75" stroke-opacity="0.26" />
<polygon points="492.70,415.50 497.70,420.50 492.70,425.50 487.70,420.50" fill="none" stroke="#e76f51" stroke-width="0.75" stroke-opacity="0.26" />
<line x1="384.40" y1="327.3" x2="474.70" y2="341.0" stroke="#264653" stroke-width="1.15"/>
<line x1="393.40" y1="377.9" x2="483.70" y2="374.2" stroke="#2a9d8f" stroke-width="1.15"/>
<line x1="402.40" y1="363.2" x2="492.70" y2="371.4" stroke="#e76f51" stroke-width="1.15"/>
<path d="M380.80,315.2 H388.00 M384.40,315.2 V338.5 M380.80,338.5 H388.00" stroke="#264653" stroke-width="1.15" fill="none"/>
<path d="M471.10,328.5 H478.30 M474.70,328.5 V352.6 M471.10,352.6 H478.30" stroke="#264653" stroke-width="1.15" fill="none"/>
<path d="M389.80,368.4 H397.00 M393.40,368.4 V387.7 M389.80,387.7 H397.00" stroke="#2a9d8f" stroke-width="1.15" fill="none"/>
<path d="M480.10,364.0 H487.30 M483.70,364.0 V382.9 M480.10,382.9 H487.30" stroke="#2a9d8f" stroke-width="1.15" fill="none"/>
<path d="M398.80,351.7 H406.00 M402.40,351.7 V374.7 M398.80,374.7 H406.00" stroke="#e76f51" stroke-width="1.15" fill="none"/>
<path d="M489.10,360.0 H496.30 M492.70,360.0 V383.1 M489.10,383.1 H496.30" stroke="#e76f51" stroke-width="1.15" fill="none"/>
<polygon points="384.40,321.30 389.60,330.30 379.20,330.30" fill="#264653" stroke="#264653" stroke-width="0.7" stroke-linejoin="miter" />
<polygon points="474.70,335.00 479.90,344.00 469.50,344.00" fill="#264653" stroke="#264653" stroke-width="0.7" stroke-linejoin="miter" />
<circle cx="393.40" cy="377.90" r="4.0" fill="#2a9d8f" />
<circle cx="483.70" cy="374.20" r="4.0" fill="#2a9d8f" />
<polygon points="402.40,357.80 407.80,363.20 402.40,368.60 397.00,363.20" fill="#e76f51" />
<polygon points="492.70,366.00 498.10,371.40 492.70,376.80 487.30,371.40" fill="#e76f51" />
<path d="M338.6,251.5 V463.8 H538" stroke="#000" stroke-width="2.1" stroke-linejoin="round" fill="none"/>
<line x1="335.70000000000005" y1="260.5" x2="338.6" y2="260.5" stroke="#333" stroke-width="1.3"/>
<text x="333.1" y="265.1" font-size="12.3" fill="#444444" text-anchor="end" font-weight="normal" stroke="#444" stroke-width="0.2">800</text>
<line x1="335.70000000000005" y1="311.1" x2="338.6" y2="311.1" stroke="#333" stroke-width="1.3"/>
<text x="333.1" y="315.70000000000005" font-size="12.3" fill="#444444" text-anchor="end" font-weight="normal" stroke="#444" stroke-width="0.2">600</text>
<line x1="335.70000000000005" y1="361.7" x2="338.6" y2="361.7" stroke="#333" stroke-width="1.3"/>
<text x="333.1" y="366.3" font-size="12.3" fill="#444444" text-anchor="end" font-weight="normal" stroke="#444" stroke-width="0.2">400</text>
<line x1="335.70000000000005" y1="412.3" x2="338.6" y2="412.3" stroke="#333" stroke-width="1.3"/>
<text x="333.1" y="416.90000000000003" font-size="12.3" fill="#444444" text-anchor="end" font-weight="normal" stroke="#444" stroke-width="0.2">200</text>
<line x1="335.70000000000005" y1="462.7" x2="338.6" y2="462.7" stroke="#333" stroke-width="1.3"/>
<text x="333.1" y="467.3" font-size="12.3" fill="#444444" text-anchor="end" font-weight="normal" stroke="#444" stroke-width="0.2">0</text>
<line x1="393.4" y1="463.8" x2="393.4" y2="466.7" stroke="#333" stroke-width="1.3"/>
<text x="393.4" y="478.0" font-size="12.7" fill="#444444" text-anchor="middle" font-weight="normal" stroke="#444" stroke-width="0.2">First Half</text>
<line x1="483.7" y1="463.8" x2="483.7" y2="466.7" stroke="#333" stroke-width="1.3"/>
<text x="483.7" y="478.0" font-size="12.7" fill="#444444" text-anchor="middle" font-weight="normal" stroke="#444" stroke-width="0.2">Second Half</text>
<text x="292.20000000000005" y="357.65" font-size="11.35" fill="#000" text-anchor="middle" transform="rotate(-90 292.20000000000005 357.65)">Player Load</text>
<text x="286.2" y="270.6" font-size="21.5" fill="#000" text-anchor="start" font-weight="bold" stroke="#000" stroke-width="0.45">D</text>
<text x="97.4" y="81.6" font-size="12.6" fill="#1a1a1a" text-anchor="start" font-weight="normal" stroke="#1a1a1a" stroke-width="0.35">§</text>
<polygon points="108.40,74.00 109.25,76.63 112.01,76.63 109.77,78.25 110.63,80.87 108.40,79.24 106.17,80.87 107.03,78.25 104.79,76.63 107.55,76.63" fill="#111" />
<text x="121.8" y="139.4" font-size="12.6" fill="#1a1a1a" text-anchor="start" font-weight="normal" stroke="#1a1a1a" stroke-width="0.35">§</text>
<text x="228.0" y="81.3" font-size="12.6" fill="#1a1a1a" text-anchor="start" font-weight="normal" stroke="#1a1a1a" stroke-width="0.35">‡</text>
<polygon points="220.80,123.90 221.60,126.39 224.22,126.39 222.10,127.92 222.92,130.41 220.80,128.87 218.68,130.41 219.50,127.92 217.38,126.39 220.00,126.39" fill="#111" />
<text x="238.8" y="172.1" font-size="12.6" fill="#1a1a1a" text-anchor="start" font-weight="normal" stroke="#1a1a1a" stroke-width="0.35">‡</text>
<text x="369.0" y="76.0" font-size="12.6" fill="#1a1a1a" text-anchor="start" font-weight="normal" stroke="#1a1a1a" stroke-width="0.35">§</text>
<text x="388.5" y="152.6" font-size="12.6" fill="#1a1a1a" text-anchor="start" font-weight="normal" stroke="#1a1a1a" stroke-width="0.35">§</text>
<text x="490.4" y="81.9" font-size="12.6" fill="#1a1a1a" text-anchor="start" font-weight="normal" stroke="#1a1a1a" stroke-width="0.35">‡</text>
<text x="482.3" y="122.6" font-size="11.0" fill="#1a1a1a" text-anchor="start" font-weight="normal" stroke="#1a1a1a" stroke-width="0.35">ɣ</text>
<text x="499.8" y="181.7" font-size="12.6" fill="#1a1a1a" text-anchor="start" font-weight="normal" stroke="#1a1a1a" stroke-width="0.35">‡</text>
<text x="508.2" y="181.2" font-size="11.0" fill="#1a1a1a" text-anchor="start" font-weight="normal" stroke="#1a1a1a" stroke-width="0.35">ɣ</text>
<text x="150.0" y="511.8" font-size="11.6" fill="#000" text-anchor="start" font-weight="normal" >Position</text>
<polygon points="205.05,501.00 210.25,510.00 199.85,510.00" fill="none" stroke="#264653" stroke-width="0.75" stroke-opacity="0.26" />
<line x1="197.9" y1="507.35" x2="212.8" y2="507.35" stroke="#264653" stroke-width="1.15"/>
<text x="220.5" y="511.1" font-size="9.3" fill="#000" text-anchor="start" font-weight="normal" >Defenders</text>
<circle cx="278.15" cy="507.20" r="3.8" fill="none" stroke="#2a9d8f" stroke-width="0.75" stroke-opacity="0.26" />
<line x1="271.0" y1="507.35" x2="285.9" y2="507.35" stroke="#2a9d8f" stroke-width="1.15"/>
<text x="293.5" y="511.1" font-size="9.3" fill="#000" text-anchor="start" font-weight="normal" >Midfielders</text>
<polygon points="353.80,502.40 358.50,507.10 353.80,511.80 349.10,507.10" fill="none" stroke="#e76f51" stroke-width="0.75" stroke-opacity="0.26" />
<line x1="346.4" y1="507.35" x2="361.2" y2="507.35" stroke="#e76f51" stroke-width="1.15"/>
<text x="369.1" y="511.1" font-size="9.3" fill="#000" text-anchor="start" font-weight="normal" >Forwards</text>
</g>
</svg>
</div>
</body></html>
